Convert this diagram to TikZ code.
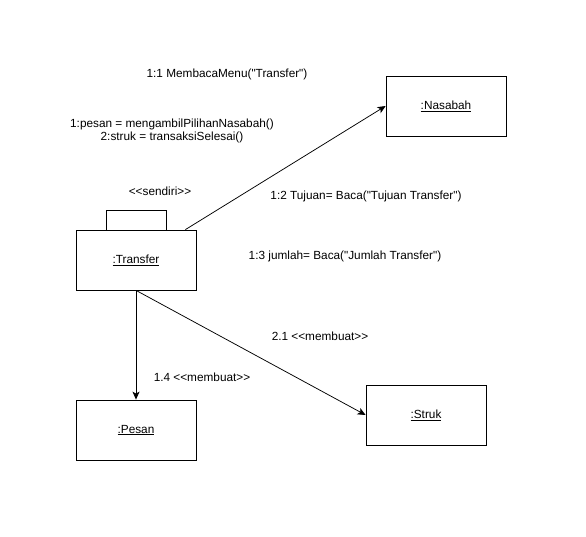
\documentclass[tikz,border=0pt]{standalone}
\usepackage{fontspec}
\setmainfont{Liberation Sans}
\usepackage{tikz}
\usetikzlibrary{arrows.meta}

\tikzset{
	objbox/.style={draw=black, minimum width=120pt, minimum height=60pt, inner sep=0pt},
	msg/.style={inner sep=0pt, align=center},
	call/.style={-{Stealth[length=8pt, width=7pt, inset=2pt]}}
}
\newcommand{\q}{\textquotedbl}

\begin{document}
\begin{tikzpicture}[x=1pt, y=-1pt, line width=0.75pt, font=\fontsize{11.8}{13}\selectfont]
				\useasboundingbox (0, 0) rectangle (586, 537);
				\node[objbox] (transfer) at (136, 260) {\underline{:Transfer}};
				\node[objbox] (nasabah) at (446, 106) {\underline{:Nasabah}};
				\node[objbox] (pesan) at (136, 430) {\underline{:Pesan}};
				\node[objbox] (struk) at (426, 415) {\underline{:Struk}};
				\draw [call](transfer.north east) ++(-11, 0) -- (nasabah.west);
				\draw [call](transfer.south) -- (pesan.north);
				\draw [call](transfer.south) -- (struk.west);
				\draw (transfer.north) ++(-30, 0) -- ++(0, -19) -- ++(60, 0) -- ++(0, 19);
				\node[msg] (menu) at (227, 74) {1:1 MembacaMenu(\q Transfer\q)};
				\node[msg] (pilihan) at (172, 131) {1:pesan = mengambilPilihanNasabah()\\2:struk = transaksiSelesai()};
				\node[msg] (sendiri) at (160, 191) {<{}<sendiri>{}>};
				\node[msg] (tujuan) at (366, 196) {1:2 Tujuan= Baca(\q Tujuan Transfer\q)};
				\node[msg] (jumlah) at (345, 256) {1:3 jumlah= Baca(\q Jumlah Transfer\q)};
				\node[msg] (buatstruk) at (320, 336) {2.1 <{}<membuat>{}>};
				\node[msg] (buatpesan) at (202, 377) {1.4 <{}<membuat>{}>};
			\end{tikzpicture}
\end{document}
